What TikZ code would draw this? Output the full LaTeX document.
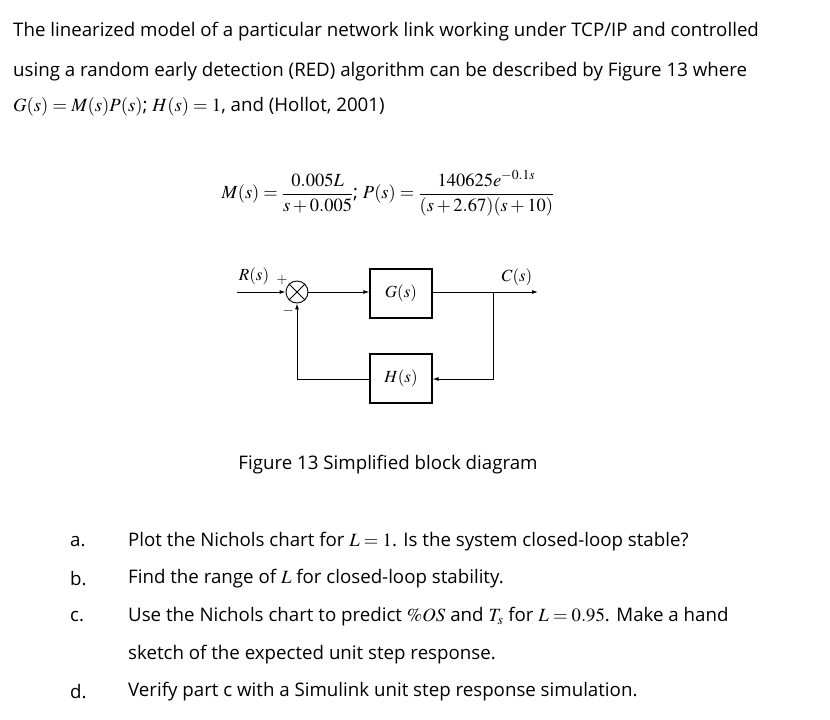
\documentclass[tikz,border=0pt]{standalone}
\usepackage{amsmath}
\usepackage{mathptmx}
\usepackage[no-math]{fontspec}
\setmainfont{Open Sans}
\usetikzlibrary{arrows.meta}
\begin{document}
\begin{tikzpicture}[x=1pt,y=-1pt,
  txt/.style={anchor=west,inner sep=0,font=\fontsize{18.7}{20}\selectfont},
  blk/.style={draw,line width=1.2pt,minimum width=62,minimum height=49,inner sep=0,font=\fontsize{17}{19}\selectfont},
  ln/.style={line width=0.9pt},
  arr/.style={ln,-{Latex[length=6,width=4]}}]
\useasboundingbox (0,0) rectangle (830,720);
\node[txt] (l1) at (13,32) {The linearized model of a particular network link working under TCP/IP and controlled};
\node[txt] (l2) at (13,72) {using a random early detection (RED) algorithm can be described by Figure 13 where};
\node[txt] (l3) at (13,107) {$G(s)=M(s)P(s)$; $H(s)=1$, and (Hollot, 2001)};
\node[inner sep=0,font=\fontsize{18.5}{20}\selectfont] (eq) at (388,193) {$M(s)=\dfrac{0.005L}{s+0.005}$; $P(s)=\dfrac{140625e^{-0.1s}}{(s+2.67)(s+10)}$};
% block diagram
\coordinate (in) at (237,292);
\node[draw,circle,ln,minimum size=22,inner sep=0] (sum) at (297,292) {};
\draw[ln] (sum.north west) -- (sum.south east) (sum.north east) -- (sum.south west);
\node[blk] (G) at (401,293.5) {$G(s)$};
\node[blk] (H) at (401,378.5) {$H(s)$};
\coordinate (br) at (493,292);
\coordinate (out) at (538,292);
\coordinate (fb) at (297,379);
\draw[arr] (in) -- (sum);
\draw[arr] (sum) -- (G.west|-sum);
\draw[ln] (G.east|-sum) -- (br);
\draw[arr] (br) -- (out);
\draw[arr] (br) |- (H.east|-fb);
\draw[arr] (H.west|-fb) -- (fb) -- (sum);
\node[font=\fontsize{17}{19}\selectfont,inner sep=0] (R) at (254,276) {$R(s)$};
\node[font=\fontsize{14}{16}\selectfont,inner sep=0] (plus) at (282,280) {$+$};
\node[font=\fontsize{14}{16}\selectfont,inner sep=0] (minus) at (288,311) {$-$};
\node[font=\fontsize{17}{19}\selectfont,inner sep=0] (C) at (517,277) {$C(s)$};
\node[inner sep=0,font=\fontsize{18.7}{20}\selectfont] (cap) at (388,465) {Figure 13 Simplified block diagram};
% questions
\foreach \l/\y/\t in {a./542/{Plot the Nichols chart for $L=1$. Is the system closed-loop stable?},
  b./579/{Find the range of $L$ for closed-loop stability.},
  c./617/{Use the Nichols chart to predict $\%OS$ and $T_s$ for $L=0.95$. Make a hand},
  d./692/{Verify part c with a Simulink unit step response simulation.}}{
  \node[txt] (q\l) at (70,\y) {\l};
  \node[txt] (t\l) at (128,\y) {\t};
}
\node[txt] (tc2) at (128,655) {sketch of the expected unit step response.};
\end{tikzpicture}
\end{document}
